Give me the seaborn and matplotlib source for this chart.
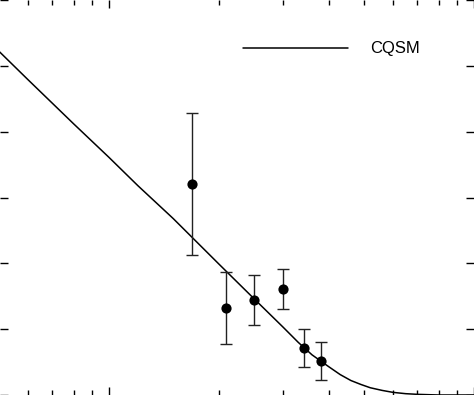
import numpy as np
import pandas as pd
import matplotlib
matplotlib.use("Agg")
import matplotlib.pyplot as plt
import seaborn as sb

# CQSM model curve
curve_x = [5, 6, 8, 10, 12, 15, 20, 25, 30, 33, 36, 40, 43, 46, 49, 52, 56,
           60, 65, 70, 80, 100]
curve_y = [5.22, 4.79, 4.12, 3.61, 3.18, 2.68, 1.99, 1.46, 1.03, 0.80, 0.61,
           0.43, 0.31, 0.22, 0.16, 0.11, 0.07, 0.04, 0.02, 0.01, 0.0, 0.0]

# measured points with error bars
data_x = [16.9, 20.9, 25.0, 30.0, 34.2, 38.1]
data_y = [3.20, 1.32, 1.45, 1.61, 0.72, 0.52]
data_err = [1.08, 0.55, 0.38, 0.30, 0.29, 0.29]

curve = pd.DataFrame({"x": curve_x, "y": curve_y})
points = pd.DataFrame({"x": data_x, "y": data_y, "err": data_err})

sb.set_style("ticks")
plt.rcParams['font.family'] = ['Liberation Sans', 'DejaVu Sans']
plt.rcParams['text.color'] = 'black'

fig = plt.figure(figsize=(4.74, 3.95), dpi=100)
ax = fig.add_axes([0, 0, 1, 1])

sb.lineplot(data=curve, x="x", y="y", ax=ax, color="black", linewidth=1.1,
            label="CQSM")
ax.errorbar(points.x, points.y, yerr=points.err, fmt="none", ecolor="#222222",
            elinewidth=1.0, capsize=4, capthick=1.0)
sb.scatterplot(data=points, x="x", y="y", ax=ax, color="black", s=54,
               linewidth=0, legend=False, zorder=5)

ax.set_xscale("log")
ax.set_xlim(5.03, 100)
ax.set_ylim(0, 6)
ax.set_yticks([0, 1, 2, 3, 4, 5, 6])
ax.set_xlabel("")
ax.set_ylabel("")
ax.set_xticklabels([])
ax.set_yticklabels([])
ax.xaxis.set_minor_formatter(plt.NullFormatter())

ax.tick_params(which="both", direction="in", top=True, right=True,
               color="black", width=1.0)
ax.tick_params(which="major", length=6)
ax.tick_params(which="minor", length=3.5)
for s in ax.spines.values():
    s.set_visible(False)

leg = ax.legend(loc="center left", bbox_to_anchor=(243 / 474, 1 - 49 / 395),
                frameon=False, fontsize=12, handlelength=6.3,
                handletextpad=1.3, borderpad=0, borderaxespad=0)

fig.savefig("out.png", dpi=100)
